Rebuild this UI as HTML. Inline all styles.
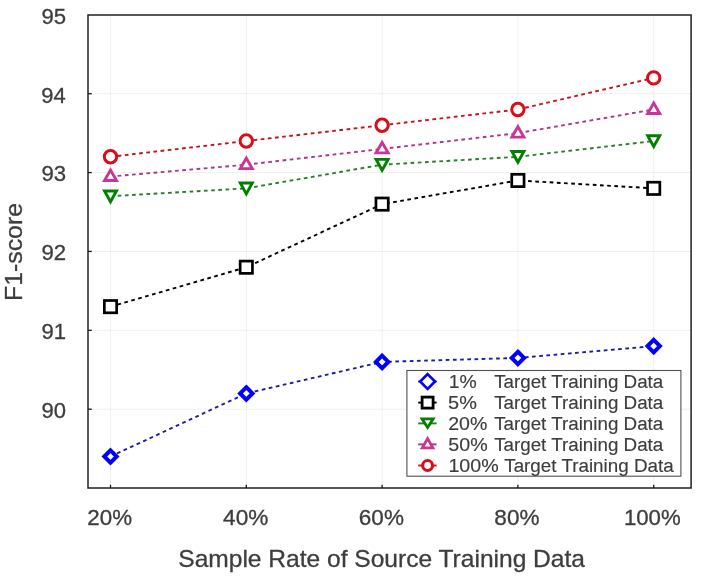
<!DOCTYPE html>
<html><head><meta charset="utf-8"><title>F1-score chart</title>
<style>
html,body{margin:0;padding:0;background:#fff;}
body{width:721px;height:579px;overflow:hidden;}
svg{display:block;will-change:transform;}
text{font-family:"Liberation Sans",Arial,Helvetica,sans-serif;fill:#3d3d3d;stroke:#3d3d3d;stroke-width:0.3px;}
.tk{font-size:21.4px;}
.al{font-size:24.0px;}
.lg{font-size:18.8px;stroke-width:0.15px;}
</style></head><body>
<svg width="721" height="579" viewBox="0 0 721 579">
<line x1="110.50" y1="15.1" x2="110.50" y2="487.9" stroke="#efefef" stroke-width="1"/>
<line x1="246.30" y1="15.1" x2="246.30" y2="487.9" stroke="#efefef" stroke-width="1"/>
<line x1="382.10" y1="15.1" x2="382.10" y2="487.9" stroke="#efefef" stroke-width="1"/>
<line x1="517.90" y1="15.1" x2="517.90" y2="487.9" stroke="#efefef" stroke-width="1"/>
<line x1="653.70" y1="15.1" x2="653.70" y2="487.9" stroke="#efefef" stroke-width="1"/>
<line x1="88.0" y1="409.20" x2="691.1" y2="409.20" stroke="#efefef" stroke-width="1"/>
<line x1="88.0" y1="330.32" x2="691.1" y2="330.32" stroke="#efefef" stroke-width="1"/>
<line x1="88.0" y1="251.45" x2="691.1" y2="251.45" stroke="#efefef" stroke-width="1"/>
<line x1="88.0" y1="172.57" x2="691.1" y2="172.57" stroke="#efefef" stroke-width="1"/>
<line x1="88.0" y1="93.70" x2="691.1" y2="93.70" stroke="#efefef" stroke-width="1"/>
<polyline points="110.50,456.52 246.30,393.42 382.10,361.88 517.90,357.93 653.70,346.10" fill="none" stroke="#1c1ca8" stroke-width="1.9" stroke-dasharray="3.7 3.5"/>
<polyline points="110.50,306.66 246.30,267.23 382.10,204.13 517.90,180.46 653.70,188.35" fill="none" stroke="#000000" stroke-width="1.9" stroke-dasharray="3.7 3.5"/>
<polyline points="110.50,196.24 246.30,188.35 382.10,164.69 517.90,156.80 653.70,141.02" fill="none" stroke="#2a7f2a" stroke-width="1.9" stroke-dasharray="3.7 3.5"/>
<polyline points="110.50,176.52 246.30,164.69 382.10,148.91 517.90,133.14 653.70,109.48" fill="none" stroke="#b03585" stroke-width="1.9" stroke-dasharray="3.7 3.5"/>
<polyline points="110.50,156.80 246.30,141.02 382.10,125.25 517.90,109.48 653.70,77.92" fill="none" stroke="#c0141e" stroke-width="1.9" stroke-dasharray="3.7 3.5"/>
<path d="M110.50 450.32L116.70 456.52L110.50 462.72L104.30 456.52Z" fill="#fff" stroke="#0000ff" stroke-width="4.0"/>
<path d="M246.30 387.22L252.50 393.42L246.30 399.62L240.10 393.42Z" fill="#fff" stroke="#0000ff" stroke-width="4.0"/>
<path d="M382.10 355.68L388.30 361.88L382.10 368.08L375.90 361.88Z" fill="#fff" stroke="#0000ff" stroke-width="4.0"/>
<path d="M517.90 351.73L524.10 357.93L517.90 364.13L511.70 357.93Z" fill="#fff" stroke="#0000ff" stroke-width="4.0"/>
<path d="M653.70 339.90L659.90 346.10L653.70 352.30L647.50 346.10Z" fill="#fff" stroke="#0000ff" stroke-width="4.0"/>
<rect x="104.35" y="300.51" width="12.30" height="12.30" fill="#fff" stroke="#000000" stroke-width="2.7"/>
<rect x="240.15" y="261.08" width="12.30" height="12.30" fill="#fff" stroke="#000000" stroke-width="2.7"/>
<rect x="375.95" y="197.98" width="12.30" height="12.30" fill="#fff" stroke="#000000" stroke-width="2.7"/>
<rect x="511.75" y="174.31" width="12.30" height="12.30" fill="#fff" stroke="#000000" stroke-width="2.7"/>
<rect x="647.55" y="182.20" width="12.30" height="12.30" fill="#fff" stroke="#000000" stroke-width="2.7"/>
<path d="M110.50 201.74L116.50 190.94L104.50 190.94Z" fill="#fff" stroke="#007f00" stroke-width="2.9"/>
<path d="M246.30 193.85L252.30 183.05L240.30 183.05Z" fill="#fff" stroke="#007f00" stroke-width="2.9"/>
<path d="M382.10 170.19L388.10 159.39L376.10 159.39Z" fill="#fff" stroke="#007f00" stroke-width="2.9"/>
<path d="M517.90 162.30L523.90 151.50L511.90 151.50Z" fill="#fff" stroke="#007f00" stroke-width="2.9"/>
<path d="M653.70 146.52L659.70 135.72L647.70 135.72Z" fill="#fff" stroke="#007f00" stroke-width="2.9"/>
<path d="M110.50 170.07L116.50 180.47L104.50 180.47Z" fill="#fff" stroke="#cc3399" stroke-width="2.9"/>
<path d="M246.30 158.24L252.30 168.64L240.30 168.64Z" fill="#fff" stroke="#cc3399" stroke-width="2.9"/>
<path d="M382.10 142.46L388.10 152.86L376.10 152.86Z" fill="#fff" stroke="#cc3399" stroke-width="2.9"/>
<path d="M517.90 126.69L523.90 137.09L511.90 137.09Z" fill="#fff" stroke="#cc3399" stroke-width="2.9"/>
<path d="M653.70 103.03L659.70 113.43L647.70 113.43Z" fill="#fff" stroke="#cc3399" stroke-width="2.9"/>
<circle cx="110.50" cy="156.80" r="6.2" fill="#fff" stroke="#dd0a1a" stroke-width="3.0"/>
<circle cx="246.30" cy="141.02" r="6.2" fill="#fff" stroke="#dd0a1a" stroke-width="3.0"/>
<circle cx="382.10" cy="125.25" r="6.2" fill="#fff" stroke="#dd0a1a" stroke-width="3.0"/>
<circle cx="517.90" cy="109.48" r="6.2" fill="#fff" stroke="#dd0a1a" stroke-width="3.0"/>
<circle cx="653.70" cy="77.92" r="6.2" fill="#fff" stroke="#dd0a1a" stroke-width="3.0"/>
<path d="M88.0 15.1H691.1V487.9H88.0Z" fill="none" stroke="#222" stroke-width="1.5"/>
<line x1="110.50" y1="487.9" x2="110.50" y2="484.70" stroke="#1a1a1a" stroke-width="1.3"/>
<line x1="246.30" y1="487.9" x2="246.30" y2="484.70" stroke="#1a1a1a" stroke-width="1.3"/>
<line x1="382.10" y1="487.9" x2="382.10" y2="484.70" stroke="#1a1a1a" stroke-width="1.3"/>
<line x1="517.90" y1="487.9" x2="517.90" y2="484.70" stroke="#1a1a1a" stroke-width="1.3"/>
<line x1="653.70" y1="487.9" x2="653.70" y2="484.70" stroke="#1a1a1a" stroke-width="1.3"/>
<line x1="88.0" y1="409.20" x2="91.80" y2="409.20" stroke="#1a1a1a" stroke-width="1.3"/>
<line x1="88.0" y1="330.32" x2="91.80" y2="330.32" stroke="#1a1a1a" stroke-width="1.3"/>
<line x1="88.0" y1="251.45" x2="91.80" y2="251.45" stroke="#1a1a1a" stroke-width="1.3"/>
<line x1="88.0" y1="172.57" x2="91.80" y2="172.57" stroke="#1a1a1a" stroke-width="1.3"/>
<line x1="88.0" y1="93.70" x2="91.80" y2="93.70" stroke="#1a1a1a" stroke-width="1.3"/>
<text x="87.38" y="524.50" textLength="44.73" lengthAdjust="spacingAndGlyphs" class="tk">20%</text>
<text x="223.13" y="524.50" textLength="45.29" lengthAdjust="spacingAndGlyphs" class="tk">40%</text>
<text x="358.87" y="524.50" textLength="45.05" lengthAdjust="spacingAndGlyphs" class="tk">60%</text>
<text x="494.39" y="524.50" textLength="45.14" lengthAdjust="spacingAndGlyphs" class="tk">80%</text>
<text x="623.93" y="524.50" textLength="56.80" lengthAdjust="spacingAndGlyphs" class="tk">100%</text>
<text x="41.50" y="23.67" textLength="24.63" lengthAdjust="spacingAndGlyphs" class="tk">95</text>
<text x="41.21" y="102.55" textLength="24.39" lengthAdjust="spacingAndGlyphs" class="tk">94</text>
<text x="41.50" y="181.42" textLength="24.63" lengthAdjust="spacingAndGlyphs" class="tk">93</text>
<text x="41.50" y="260.30" textLength="24.66" lengthAdjust="spacingAndGlyphs" class="tk">92</text>
<text x="41.51" y="339.18" textLength="24.54" lengthAdjust="spacingAndGlyphs" class="tk">91</text>
<text x="41.51" y="418.05" textLength="24.51" lengthAdjust="spacingAndGlyphs" class="tk">90</text>
<text x="178.25" y="566.70" textLength="406.74" lengthAdjust="spacingAndGlyphs" class="al">Sample Rate of Source Training Data</text>
<g transform="translate(0 503.1) rotate(-90)"><text x="202.22" y="21.60" textLength="97.81" lengthAdjust="spacingAndGlyphs" class="al">F1-score</text></g>
<rect x="406.9" y="370.5" width="274.0" height="105.7" fill="#fff" stroke="#505050" stroke-width="1.1"/>
<line x1="418.2" y1="381.50" x2="436.6" y2="381.50" stroke="#1c1ca8" stroke-width="1.9"/>
<path d="M427.60 374.05L435.05 381.50L427.60 388.95L420.15 381.50Z" fill="#fff" stroke="#0000ff" stroke-width="2.6"/>
<text x="448.84" y="387.70" textLength="28.04" lengthAdjust="spacingAndGlyphs" class="lg">1%</text>
<text x="494.13" y="387.70" textLength="169.17" lengthAdjust="spacingAndGlyphs" class="lg">Target Training Data</text>
<line x1="418.2" y1="402.60" x2="436.6" y2="402.60" stroke="#000000" stroke-width="1.9"/>
<rect x="422.10" y="397.10" width="11.00" height="11.00" fill="#fff" stroke="#000000" stroke-width="2.8"/>
<text x="448.10" y="408.90" textLength="28.80" lengthAdjust="spacingAndGlyphs" class="lg">5%</text>
<text x="494.13" y="408.90" textLength="169.17" lengthAdjust="spacingAndGlyphs" class="lg">Target Training Data</text>
<line x1="418.2" y1="423.40" x2="436.6" y2="423.40" stroke="#2a7f2a" stroke-width="1.9"/>
<path d="M427.60 427.50L433.20 418.80L422.00 418.80Z" fill="#fff" stroke="#007f00" stroke-width="2.8"/>
<text x="448.22" y="429.80" textLength="39.09" lengthAdjust="spacingAndGlyphs" class="lg">20%</text>
<text x="494.13" y="429.80" textLength="169.17" lengthAdjust="spacingAndGlyphs" class="lg">Target Training Data</text>
<line x1="418.2" y1="444.40" x2="436.6" y2="444.40" stroke="#b03585" stroke-width="1.9"/>
<path d="M427.60 438.60L432.90 447.80L422.30 447.80Z" fill="#fff" stroke="#cc3399" stroke-width="2.8"/>
<text x="448.31" y="450.90" textLength="39.30" lengthAdjust="spacingAndGlyphs" class="lg">50%</text>
<text x="494.13" y="450.90" textLength="169.17" lengthAdjust="spacingAndGlyphs" class="lg">Target Training Data</text>
<line x1="418.2" y1="465.50" x2="436.6" y2="465.50" stroke="#c0141e" stroke-width="1.9"/>
<circle cx="427.60" cy="465.50" r="4.95" fill="#fff" stroke="#dd0a1a" stroke-width="3.1"/>
<text x="448.43" y="472.10" textLength="50.21" lengthAdjust="spacingAndGlyphs" class="lg">100%</text>
<text x="504.23" y="472.10" textLength="169.47" lengthAdjust="spacingAndGlyphs" class="lg">Target Training Data</text>
</svg>
</body></html>
